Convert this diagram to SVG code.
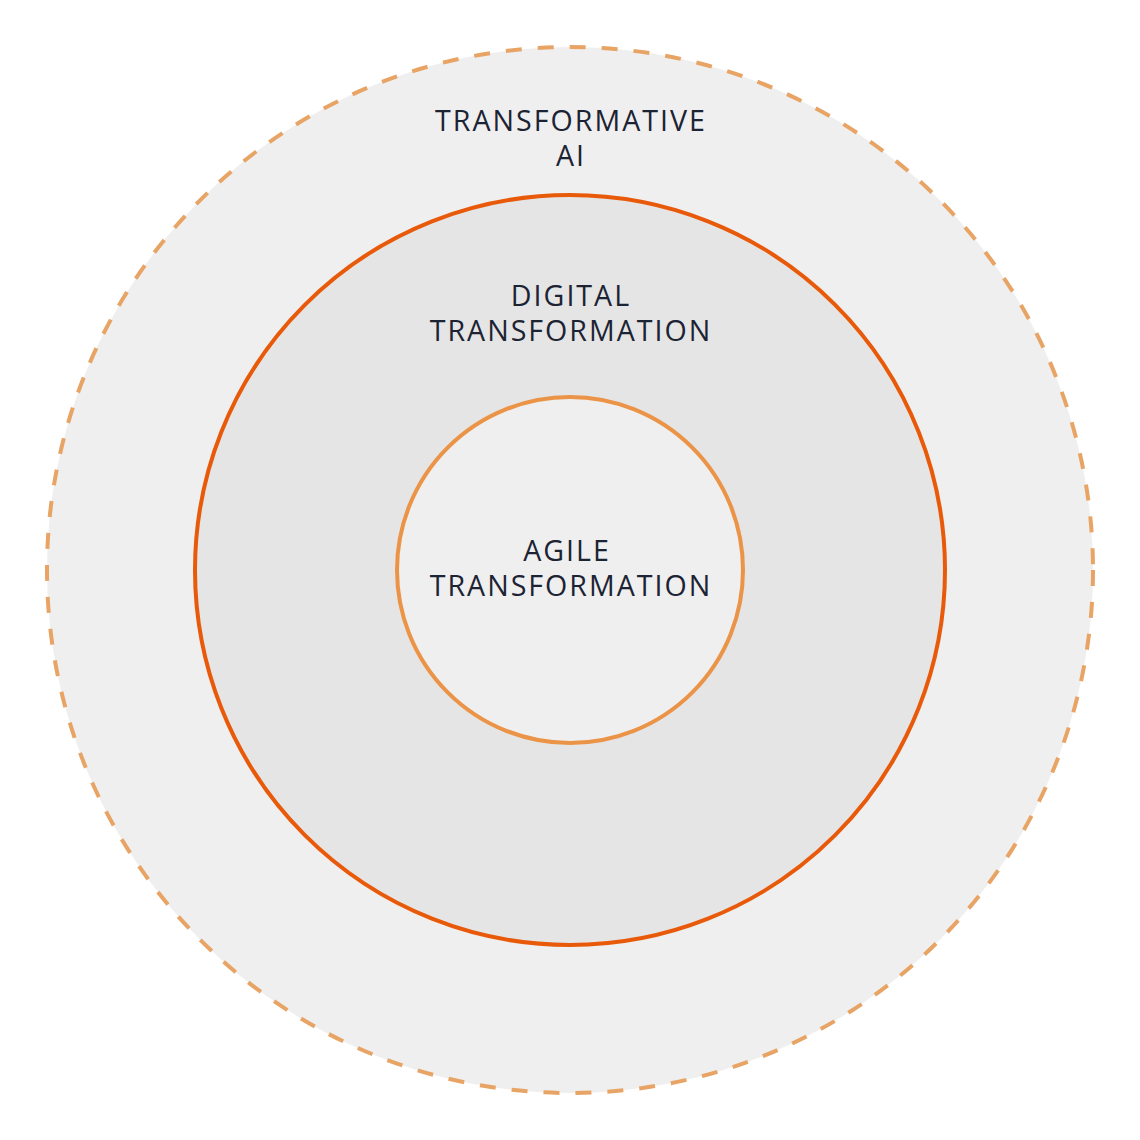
<svg xmlns="http://www.w3.org/2000/svg" width="1140" height="1140" viewBox="0 0 1140 1140">
<style>
.lbl{font-family:"Open Sans","Liberation Sans",sans-serif;font-size:28.6px;fill:#1c2333;text-anchor:middle;letter-spacing:2px}
</style>
<rect width="1140" height="1140" fill="#ffffff"/>
<g id="outer">
<circle cx="570" cy="570" r="523" fill="#efefef" stroke="#e8a465" stroke-width="4" stroke-dasharray="16 16"/>
<text class="lbl"><tspan x="571" y="131">TRANSFORMATIVE</tspan><tspan x="571" y="166">AI</tspan></text>
</g>
<g id="middle">
<circle cx="570" cy="570" r="375" fill="#e5e5e5" stroke="#e85a0a" stroke-width="4"/>
<text class="lbl"><tspan x="571" y="306">DIGITAL</tspan><tspan x="571" y="341">TRANSFORMATION</tspan></text>
</g>
<g id="inner">
<circle cx="570" cy="570" r="173" fill="#efefef" stroke="#eb9447" stroke-width="4"/>
<text class="lbl"><tspan x="567" y="561">AGILE</tspan><tspan x="571" y="596">TRANSFORMATION</tspan></text>
</g>
<g id="connectors"/>
</svg>
